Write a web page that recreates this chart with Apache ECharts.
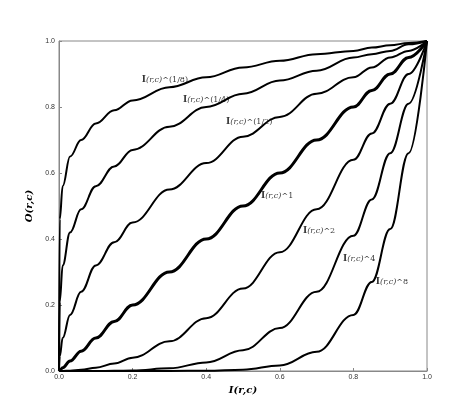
<!DOCTYPE html>
<html><head><meta charset="utf-8">
<script src="https://cdn.jsdelivr.net/npm/echarts@6/dist/echarts.min.js"></script>
<style>html,body{margin:0;background:#fff}#main{width:474px;height:412px}</style>
</head><body><div id="main"></div>
<script>
const xs = [0, 0.002, 0.01, 0.03, 0.06, 0.1, 0.15, 0.2, 0.3, 0.4, 0.5, 0.6, 0.7, 0.8, 0.85, 0.9, 0.95, 1];
const p18 = [0, 0.46, 0.56, 0.65, 0.70, 0.75, 0.79, 0.82, 0.86, 0.89, 0.92, 0.94, 0.96, 0.97, 0.98, 0.987, 0.994, 1];
const p14 = [0, 0.21, 0.32, 0.42, 0.49, 0.56, 0.62, 0.67, 0.74, 0.80, 0.84, 0.88, 0.91, 0.95, 0.96, 0.97, 0.99, 1];
const p12 = [0, 0.045, 0.10, 0.17, 0.24, 0.32, 0.39, 0.45, 0.55, 0.63, 0.71, 0.77, 0.84, 0.89, 0.92, 0.95, 0.97, 1];
const p1 = [0, 0.002, 0.01, 0.03, 0.06, 0.1, 0.15, 0.2, 0.3, 0.4, 0.5, 0.6, 0.7, 0.8, 0.85, 0.9, 0.95, 1];
const p2 = [0, 0, 0.0001, 0.0009, 0.0036, 0.01, 0.0225, 0.04, 0.09, 0.16, 0.25, 0.36, 0.49, 0.64, 0.72, 0.81, 0.90, 1];
const p4 = [0, 0, 0, 0, 0, 0.0001, 0.0005, 0.0016, 0.008, 0.026, 0.063, 0.13, 0.24, 0.41, 0.52, 0.66, 0.81, 1];
const p8 = [0, 0, 0, 0, 0, 0, 0, 0, 0.0001, 0.0007, 0.004, 0.017, 0.058, 0.17, 0.27, 0.43, 0.66, 1];

const curveNames = ["(1/8)", "(1/4)", "(1/2)", "1", "2", "4", "8"];
const labelX = [0.225, 0.337, 0.454, 0.549, 0.663, 0.772, 0.861];
const labelY = [0.882, 0.821, 0.755, 0.53, 0.424, 0.34, 0.27];

const curves = [p18, p14, p12, p1, p2, p4, p8];
const chart = echarts.init(document.getElementById("main"));

const series = curves.map((ys, i) => ({
    type: "line",
    data: xs.map((x, j) => [x, ys[j]]),
    showSymbol: false,
    smooth: 0.4,
    smoothMonotone: "x",
    lineStyle: { color: "#000", width: i === 3 ? 3 : 2 },
    silent: true
}));

series.push({
    type: "scatter",
    symbolSize: 0,
    data: labelX.map((x, i) => [x, labelY[i], curveNames[i]]),
    label: {
        show: true,
        position: "right",
        distance: 0,
        formatter: (p) => "{b|I}{i|(r,c)}{t|^" + p.data[2] + "}",
        rich: {
            b: { fontFamily: "DejaVu Serif", fontWeight: "bold", fontSize: 9, color: "#000" },
            i: { fontFamily: "DejaVu Serif", fontStyle: "italic", fontSize: 8, color: "#000" },
            t: { fontFamily: "DejaVu Serif", fontSize: 8, color: "#000" }
        }
    }
});

const axisCommon = {
    type: "value", min: 0, max: 1, interval: 0.2,
    axisLine: { show: true, lineStyle: { color: "#888" } },
    axisTick: { inside: true, length: 3, lineStyle: { color: "#888" } },
    splitLine: { show: false },
    axisLabel: { fontSize: 7, color: "#333", formatter: (v) => v.toFixed(1) },
    nameLocation: "middle",
    nameTextStyle: { fontFamily: "DejaVu Serif", fontWeight: "bold", fontStyle: "italic", fontSize: 10, color: "#000" }
};

chart.setOption({
    animation: false,
    grid: { left: 59, right: 47, top: 41, bottom: 41, show: true, borderColor: "#888", borderWidth: 1 },
    xAxis: { ...axisCommon, name: "I(r,c)", nameGap: 14, axisLabel: { ...axisCommon.axisLabel, margin: 3 } },
    yAxis: { ...axisCommon, name: "O(r,c)", nameGap: 22, axisLabel: { ...axisCommon.axisLabel, margin: 4 } },
    series
});
</script></body></html>
